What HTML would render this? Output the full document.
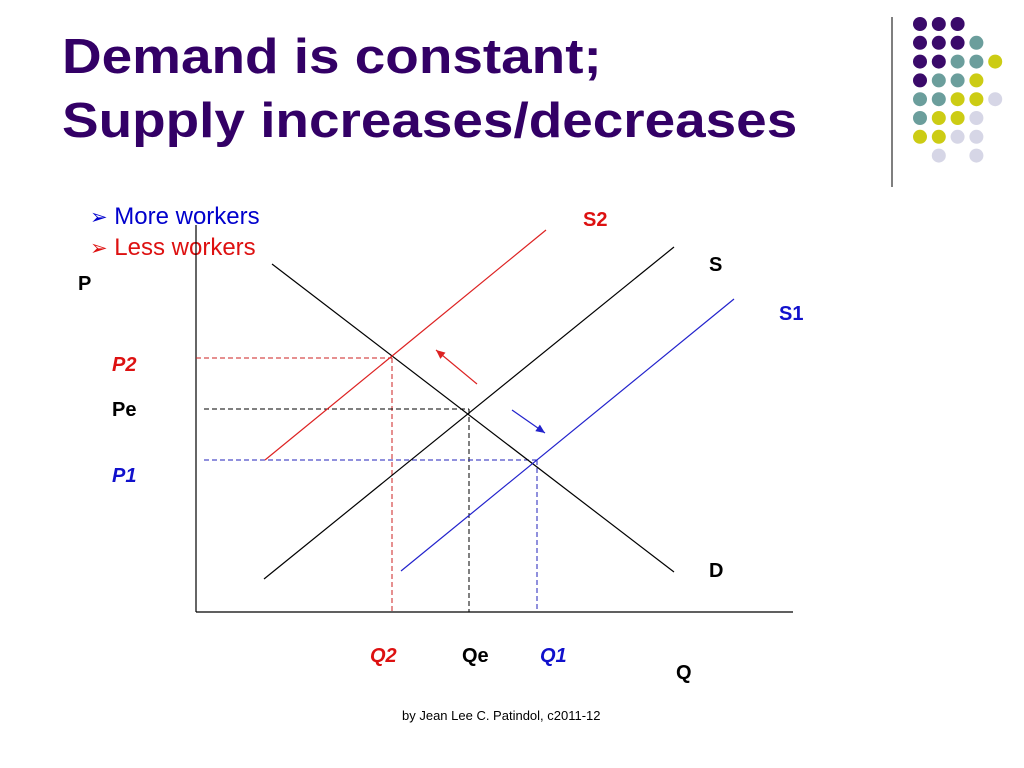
<!DOCTYPE html>
<html><head><meta charset="utf-8"><style>
body{margin:0;width:1024px;height:768px;background:#fff;overflow:hidden;font-family:"Liberation Sans",Arial,sans-serif;position:relative}
.t{position:absolute;white-space:nowrap}
h1{position:absolute;left:62px;top:25px;margin:0;font-size:49px;line-height:64px;color:#330066;font-weight:bold;transform:scaleX(1.12);transform-origin:left top;white-space:nowrap}
</style></head><body>
<h1>Demand is constant;<br>Supply increases/decreases</h1>
<svg id="dots" width="1024" height="200" style="position:absolute;left:0;top:0"></svg>
<div class="t" style="left:90px;top:203px;font-size:24px;color:#0000cc"><span style="font-size:21px">➢</span> More workers</div>
<div class="t" style="left:90px;top:234px;font-size:24px;color:#dd1111"><span style="font-size:21px">➢</span> Less workers</div>
<svg id="chart" width="1024" height="768" style="position:absolute;left:0;top:0"></svg>
<div class="t" style="left:402px;top:708px;font-size:13px;color:#000">by Jean Lee C. Patindol, c2011-12</div>
<script>
const dotRows=["PPP","PPPT","PPTTY","PTTY","TTYYL","TYYL","YYLL","_L_L"];
const dotColors={P:"#3a0a6a",T:"#6b9e9c",Y:"#cccc14",L:"#d6d6e6"};
const ds=document.getElementById('dots');
const NS="http://www.w3.org/2000/svg";
const vl=document.createElementNS(NS,'line');


vl.setAttribute('x1',892);vl.setAttribute('x2',892);vl.setAttribute('y1',17);vl.setAttribute('y2',187);vl.setAttribute('stroke','#555');vl.setAttribute('stroke-width',1.5);ds.appendChild(vl);
dotRows.forEach((r,i)=>{[...r].forEach((c,j)=>{if(c==='_')return;const e=document.createElementNS(NS,'circle');


e.setAttribute('cx',920+j*18.8);e.setAttribute('cy',24+i*18.8);e.setAttribute('r',7);e.setAttribute('fill',dotColors[c]);ds.appendChild(e);});});

const lineNames=["demand-D","supply-S","supply-S2","supply-S1"];
const lineColors=["#000","#000","#dd2222","#2222cc"];
const lineStart=[[76,348],[68,33],[69,152],[205,41]];
const lineEnd=[[478,40],[478,365],[350,382],[538,313]];
const eqNames=["P2","Pe","P1"];
const eqQ=[196,273,341];
const eqP=[254,203,152];
const eqColors=["#cc2222","#000","#2222bb"];
const arrowStart=[[281,228],[316,202]];
const arrowEnd=[[240,262],[349,179]];
const arrowColors=["#dd2222","#2222cc"];
const X=q=>196+q, Y=p=>612-p;
const svg=document.getElementById('chart');
function mk(tag,attrs){const e=document.createElementNS(NS,tag);for(const k in attrs)e.setAttribute(k,attrs[k]);svg.appendChild(e);return e;}
let a=mk('line',{x1:196,y1:225,x2:196,y2:612,stroke:'#000','stroke-width':1.2});


a=mk('line',{x1:196,y1:612,x2:793,y2:612,stroke:'#000','stroke-width':1.2});


eqNames.forEach((n,i)=>{
 const x0=i===0?196:204;
 let h=mk('line',{x1:x0,y1:Y(eqP[i]),x2:X(eqQ[i]),y2:Y(eqP[i]),stroke:eqColors[i],'stroke-dasharray':'5,3','stroke-width':1});
 
 
 let v=mk('line',{x1:X(eqQ[i]),y1:Y(eqP[i]),x2:X(eqQ[i]),y2:612,stroke:eqColors[i],'stroke-dasharray':'5,3','stroke-width':1});
 
 
});
lineNames.forEach((n,i)=>{
 let l=mk('line',{x1:X(lineStart[i][0]),y1:Y(lineStart[i][1]),x2:X(lineEnd[i][0]),y2:Y(lineEnd[i][1]),stroke:lineColors[i],'stroke-width':1.2});
 
 
});
arrowStart.forEach((s,i)=>{
 const x1=X(s[0]),y1=Y(s[1]),x2=X(arrowEnd[i][0]),y2=Y(arrowEnd[i][1]);
 let l=mk('line',{x1,y1,x2,y2,stroke:arrowColors[i],'stroke-width':1.2});
 
 
 const ang=Math.atan2(y2-y1,x2-x1),L=9,W=4;
 const bx=x2-L*Math.cos(ang),by=y2-L*Math.sin(ang);
 const pts=`${x2},${y2} ${bx-W*Math.sin(ang)},${by+W*Math.cos(ang)} ${bx+W*Math.sin(ang)},${by-W*Math.cos(ang)}`;
 let h=mk('polygon',{points:pts,fill:arrowColors[i]});
 
 
});
const labels=[["P",78,290,"#000","normal","axis-label-p"],["Q",676,679,"#000","normal","axis-label-q"],
["S2",583,226,"#dd1111","normal","label-s2"],["S",709,271,"#000","normal","label-s"],["S1",779,320,"#1111cc","normal","label-s1"],["D",709,577,"#000","normal","label-d"],
["P2",112,371,"#dd1111","italic","label-p2"],["Pe",112,416,"#000","normal","label-pe"],["P1",112,482,"#1111cc","italic","label-p1"],
["Q2",370,662,"#dd1111","italic","label-q2"],["Qe",462,662,"#000","normal","label-qe"],["Q1",540,662,"#1111cc","italic","label-q1"]];
labels.forEach(l=>{let t=mk('text',{x:l[1],y:l[2],fill:l[3],'font-size':20,'font-weight':'bold','font-style':l[4],'font-family':'Liberation Sans, sans-serif'});t.textContent=l[0];

});
</script>
</body></html>
